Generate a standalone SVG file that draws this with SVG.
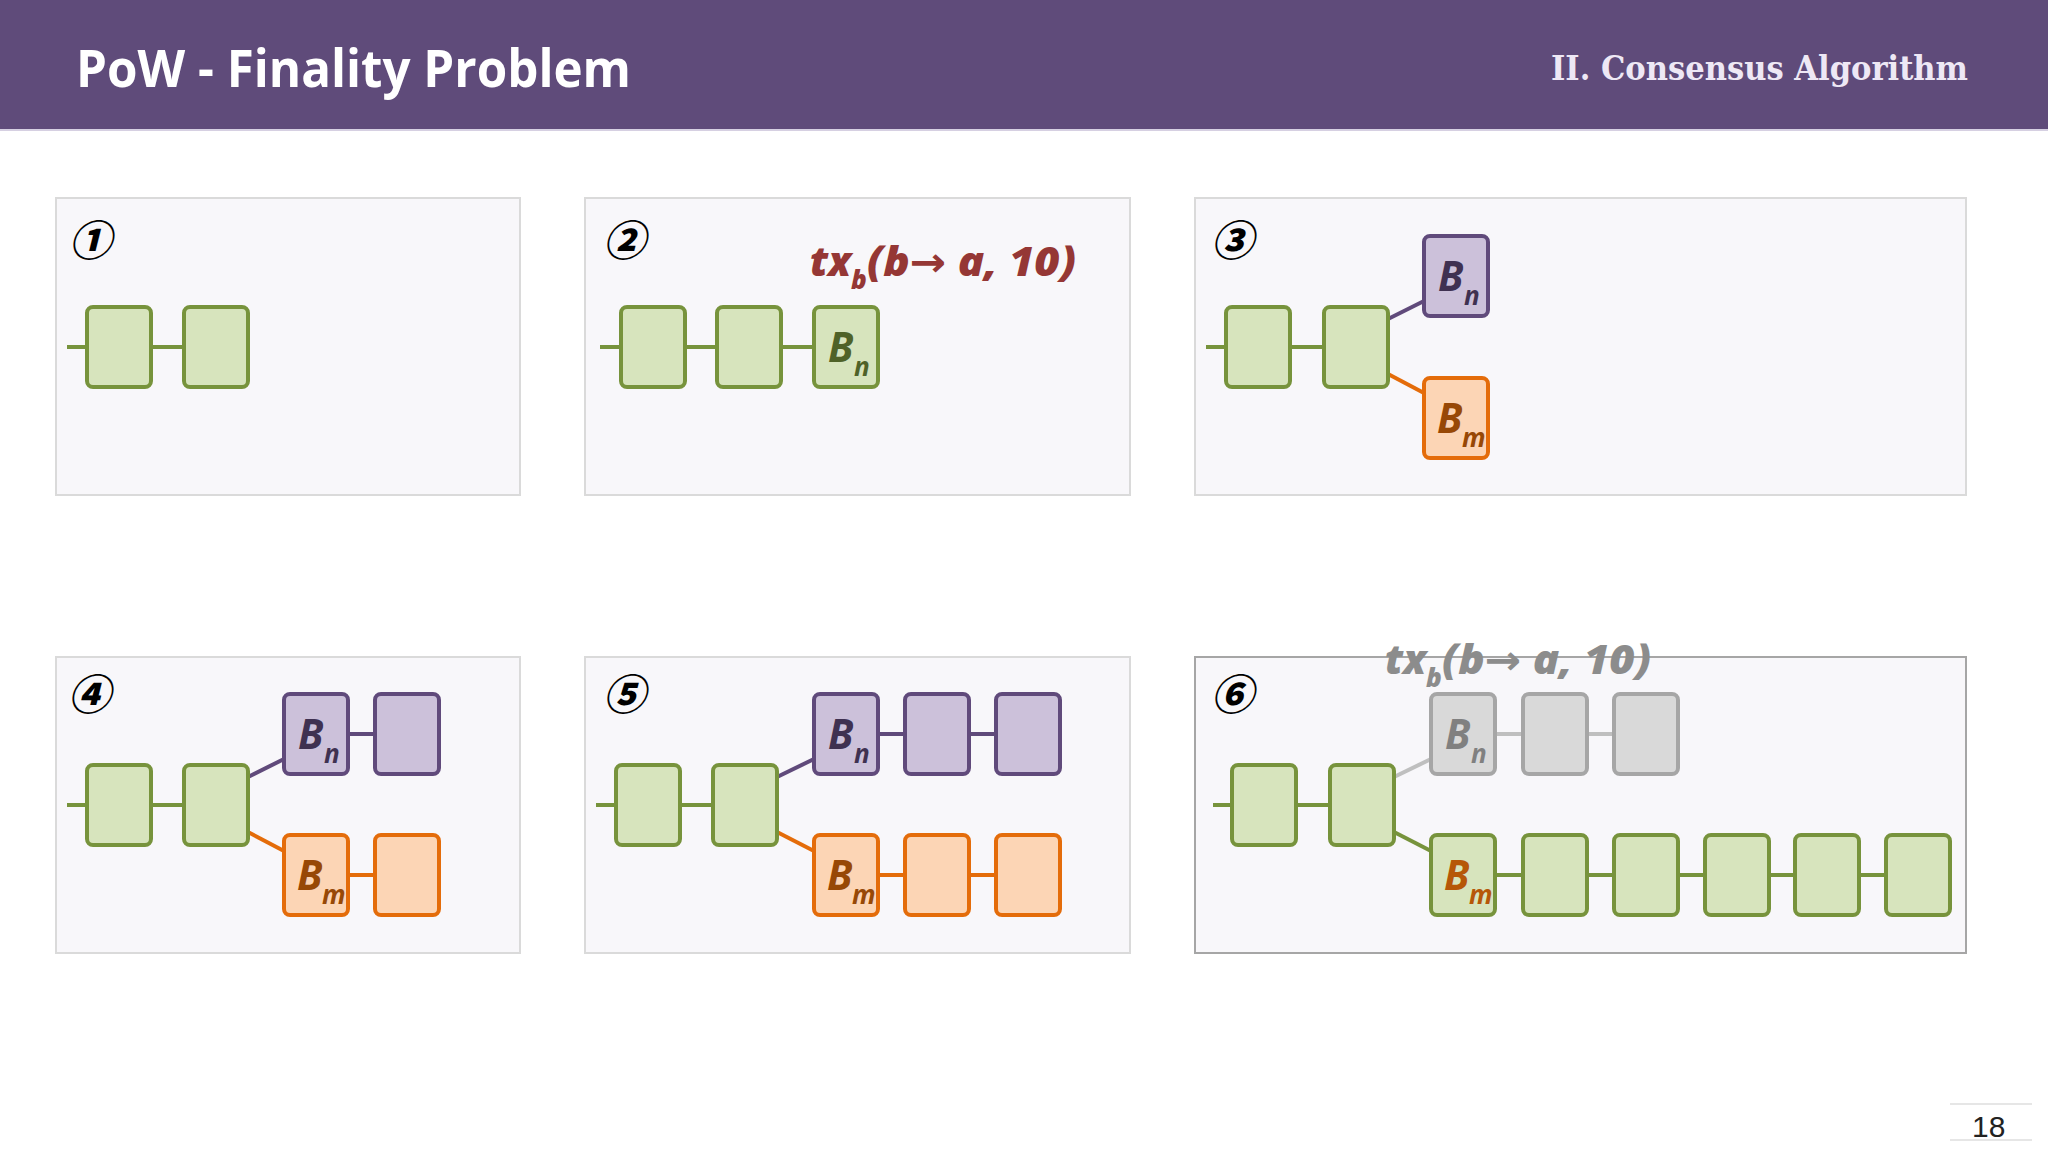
<svg xmlns="http://www.w3.org/2000/svg" width="2048" height="1152" viewBox="0 0 2048 1152">
<style>
.panel{fill:#F8F7FA;stroke:#DADADA;stroke-width:2}
.blk{stroke-width:4}
.g{fill:#D7E4BD;stroke:#77933C}
.p{fill:#CCC1DA;stroke:#604A7B}
.o{fill:#FCD5B5;stroke:#E46C0A}
.gr{fill:#D9D9D9;stroke:#A6A6A6}
.ln{stroke-width:4;fill:none}
.lg{stroke:#77933C}
.lp{stroke:#604A7B}
.lo{stroke:#E46C0A}
.lgr{stroke:#BFBFBF}
.num{font-family:"Noto Sans CJK JP","DejaVu Sans",sans-serif;font-size:42px;font-weight:900;font-style:italic;fill:#000;text-anchor:middle;dominant-baseline:central}
.B{font-family:"Open Sans","DejaVu Sans",sans-serif;font-weight:700;font-style:italic;font-size:41px}
.sub{font-family:"Open Sans","DejaVu Sans",sans-serif;font-weight:700;font-style:italic;font-size:26px}
.tx{font-family:"Open Sans","DejaVu Sans",sans-serif;font-weight:800;font-style:italic;font-size:40px}
.txs{font-family:"Open Sans","DejaVu Sans",sans-serif;font-weight:800;font-style:italic;font-size:26px}
.cg{fill:#4F6228}.cp{fill:#3F3151}.co{fill:#974806}.cgr{fill:#808080}
</style>
<rect x="0" y="0" width="2048" height="1152" fill="#FFFFFF"/>
<g id="header">
<rect x="0" y="0" width="2048" height="129" fill="#5F4B7A"/>
<rect x="0" y="129" width="2048" height="2" fill="#D6D0E2"/>
<text x="76" y="87" font-family="'Open Sans','DejaVu Sans',sans-serif" font-weight="700" font-size="52" fill="#FFFFFF" textLength="555" lengthAdjust="spacingAndGlyphs">PoW - Finality Problem</text>
<text x="1551" y="80" font-family="'DejaVu Serif','Liberation Serif',serif" font-weight="700" font-size="34" fill="#EEE8F5" textLength="417" lengthAdjust="spacingAndGlyphs">II. Consensus Algorithm</text>
</g>
<g id="panels">
<rect id="panel1" class="panel" x="56" y="198" width="464" height="297"/>
<rect id="panel2" class="panel" x="585" y="198" width="545" height="297"/>
<rect id="panel3" class="panel" x="1195" y="198" width="771" height="297"/>
<rect id="panel4" class="panel" x="56" y="657" width="464" height="296"/>
<rect id="panel5" class="panel" x="585" y="657" width="545" height="296"/>
<rect id="panel6" class="panel" x="1195" y="657" width="771" height="296" style="stroke:#A6A6A6"/>
</g>
<g id="step-numbers">
<text class="num" x="90" y="237">①</text>
<text class="num" x="624" y="237">②</text>
<text class="num" x="1232" y="237">③</text>
<text class="num" x="89" y="691">④</text>
<text class="num" x="624" y="691">⑤</text>
<text class="num" x="1232" y="691">⑥</text>
</g>
<g id="connectors">
<line class="ln lg" x1="67" y1="347" x2="87" y2="347"/>
<line class="ln lg" x1="151" y1="347" x2="184" y2="347"/>
<line class="ln lg" x1="600" y1="347" x2="621" y2="347"/>
<line class="ln lg" x1="685" y1="347" x2="717" y2="347"/>
<line class="ln lg" x1="781" y1="347" x2="814" y2="347"/>
<line class="ln lg" x1="1206" y1="347" x2="1226" y2="347"/>
<line class="ln lg" x1="1290" y1="347" x2="1324" y2="347"/>
<line class="ln lp" x1="1388" y1="319" x2="1424" y2="301"/>
<line class="ln lo" x1="1388" y1="374" x2="1424" y2="393"/>
<line class="ln lg" x1="67" y1="805" x2="87" y2="805"/>
<line class="ln lg" x1="151" y1="805" x2="184" y2="805"/>
<line class="ln lp" x1="248" y1="777" x2="284" y2="759"/>
<line class="ln lo" x1="248" y1="832" x2="284" y2="851"/>
<line class="ln lp" x1="348" y1="734" x2="375" y2="734"/>
<line class="ln lo" x1="348" y1="875" x2="375" y2="875"/>
<line class="ln lg" x1="596" y1="805" x2="616" y2="805"/>
<line class="ln lg" x1="680" y1="805" x2="713" y2="805"/>
<line class="ln lp" x1="777" y1="777" x2="814" y2="759"/>
<line class="ln lo" x1="777" y1="832" x2="814" y2="851"/>
<line class="ln lp" x1="878" y1="734" x2="905" y2="734"/>
<line class="ln lp" x1="969" y1="734" x2="996" y2="734"/>
<line class="ln lo" x1="878" y1="875" x2="905" y2="875"/>
<line class="ln lo" x1="969" y1="875" x2="996" y2="875"/>
<line class="ln lg" x1="1213" y1="805" x2="1232" y2="805"/>
<line class="ln lg" x1="1296" y1="805" x2="1330" y2="805"/>
<line class="ln lgr" x1="1394" y1="777" x2="1431" y2="759"/>
<line class="ln lg" x1="1394" y1="832" x2="1431" y2="851"/>
<line class="ln lgr" x1="1495" y1="734" x2="1523" y2="734"/>
<line class="ln lgr" x1="1587" y1="734" x2="1614" y2="734"/>
<line class="ln lg" x1="1495" y1="875" x2="1523" y2="875"/>
<line class="ln lg" x1="1587" y1="875" x2="1614" y2="875"/>
<line class="ln lg" x1="1678" y1="875" x2="1705" y2="875"/>
<line class="ln lg" x1="1769" y1="875" x2="1795" y2="875"/>
<line class="ln lg" x1="1859" y1="875" x2="1886" y2="875"/>
</g>
<g id="p1-b1"><rect class="blk g" x="87" y="307" width="64" height="80" rx="6"/></g>
<g id="p1-b2"><rect class="blk g" x="184" y="307" width="64" height="80" rx="6"/></g>
<g id="p2-b1"><rect class="blk g" x="621" y="307" width="64" height="80" rx="6"/></g>
<g id="p2-b2"><rect class="blk g" x="717" y="307" width="64" height="80" rx="6"/></g>
<g id="p2-bn"><rect class="blk g" x="814" y="307" width="64" height="80" rx="6"/>
<text class="B cg" x="828" y="362">B</text><text class="sub cg" x="854" y="376">n</text></g>
<g id="p2-tx">
<text class="tx" x="810" y="276" fill="#953735">tx</text>
<text class="txs" x="851" y="289" fill="#953735">b</text>
<text class="tx" x="867" y="276" fill="#953735" textLength="209" lengthAdjust="spacingAndGlyphs">(b→ a, 10)</text>
</g>
<g id="p3-b1"><rect class="blk g" x="1226" y="307" width="64" height="80" rx="6"/></g>
<g id="p3-b2"><rect class="blk g" x="1324" y="307" width="64" height="80" rx="6"/></g>
<g id="p3-bn"><rect class="blk p" x="1424" y="236" width="64" height="80" rx="6"/>
<text class="B cp" x="1438" y="291">B</text><text class="sub cp" x="1464" y="305">n</text></g>
<g id="p3-bm"><rect class="blk o" x="1424" y="378" width="64" height="80" rx="6"/>
<text class="B co" x="1437" y="433">B</text><text class="sub co" x="1462" y="447">m</text></g>
<g id="p4-b1"><rect class="blk g" x="87" y="765" width="64" height="80" rx="6"/></g>
<g id="p4-b2"><rect class="blk g" x="184" y="765" width="64" height="80" rx="6"/></g>
<g id="p4-bn"><rect class="blk p" x="284" y="694" width="64" height="80" rx="6"/>
<text class="B cp" x="298" y="749">B</text><text class="sub cp" x="324" y="763">n</text></g>
<g id="p4-n2"><rect class="blk p" x="375" y="694" width="64" height="80" rx="6"/></g>
<g id="p4-bm"><rect class="blk o" x="284" y="835" width="64" height="80" rx="6"/>
<text class="B co" x="297" y="890">B</text><text class="sub co" x="322" y="904">m</text></g>
<g id="p4-m2"><rect class="blk o" x="375" y="835" width="64" height="80" rx="6"/></g>
<g id="p5-b1"><rect class="blk g" x="616" y="765" width="64" height="80" rx="6"/></g>
<g id="p5-b2"><rect class="blk g" x="713" y="765" width="64" height="80" rx="6"/></g>
<g id="p5-bn"><rect class="blk p" x="814" y="694" width="64" height="80" rx="6"/>
<text class="B cp" x="828" y="749">B</text><text class="sub cp" x="854" y="763">n</text></g>
<g id="p5-n2"><rect class="blk p" x="905" y="694" width="64" height="80" rx="6"/></g>
<g id="p5-n3"><rect class="blk p" x="996" y="694" width="64" height="80" rx="6"/></g>
<g id="p5-bm"><rect class="blk o" x="814" y="835" width="64" height="80" rx="6"/>
<text class="B co" x="827" y="890">B</text><text class="sub co" x="852" y="904">m</text></g>
<g id="p5-m2"><rect class="blk o" x="905" y="835" width="64" height="80" rx="6"/></g>
<g id="p5-m3"><rect class="blk o" x="996" y="835" width="64" height="80" rx="6"/></g>
<g id="p6-b1"><rect class="blk g" x="1232" y="765" width="64" height="80" rx="6"/></g>
<g id="p6-b2"><rect class="blk g" x="1330" y="765" width="64" height="80" rx="6"/></g>
<g id="p6-bn"><rect class="blk gr" x="1431" y="694" width="64" height="80" rx="6"/>
<text class="B cgr" x="1445" y="749">B</text><text class="sub cgr" x="1471" y="763">n</text></g>
<g id="p6-n2"><rect class="blk gr" x="1523" y="694" width="64" height="80" rx="6"/></g>
<g id="p6-n3"><rect class="blk gr" x="1614" y="694" width="64" height="80" rx="6"/></g>
<g id="p6-bm"><rect class="blk g" x="1431" y="835" width="64" height="80" rx="6"/>
<text class="B" x="1444" y="890" fill="#B65708">B</text><text class="sub" x="1469" y="904" fill="#B65708">m</text></g>
<g id="p6-m2"><rect class="blk g" x="1523" y="835" width="64" height="80" rx="6"/></g>
<g id="p6-m3"><rect class="blk g" x="1614" y="835" width="64" height="80" rx="6"/></g>
<g id="p6-m4"><rect class="blk g" x="1705" y="835" width="64" height="80" rx="6"/></g>
<g id="p6-m5"><rect class="blk g" x="1795" y="835" width="64" height="80" rx="6"/></g>
<g id="p6-m6"><rect class="blk g" x="1886" y="835" width="64" height="80" rx="6"/></g>
<g id="p6-tx">
<text class="tx" x="1385" y="674" fill="#8C8C8C">tx</text>
<text class="txs" x="1426" y="687" fill="#8C8C8C">b</text>
<text class="tx" x="1442" y="674" fill="#8C8C8C" textLength="209" lengthAdjust="spacingAndGlyphs">(b→ a, 10)</text>
</g>
<g id="page-number">
<line x1="1950" y1="1104" x2="2032" y2="1104" stroke="#E6E6E6" stroke-width="2"/>
<line x1="1950" y1="1140" x2="2032" y2="1140" stroke="#E6E6E6" stroke-width="2"/>
<text x="1972" y="1137" font-family="'Liberation Sans',Arial,sans-serif" font-size="30" fill="#222222">18</text>
</g>
</svg>
